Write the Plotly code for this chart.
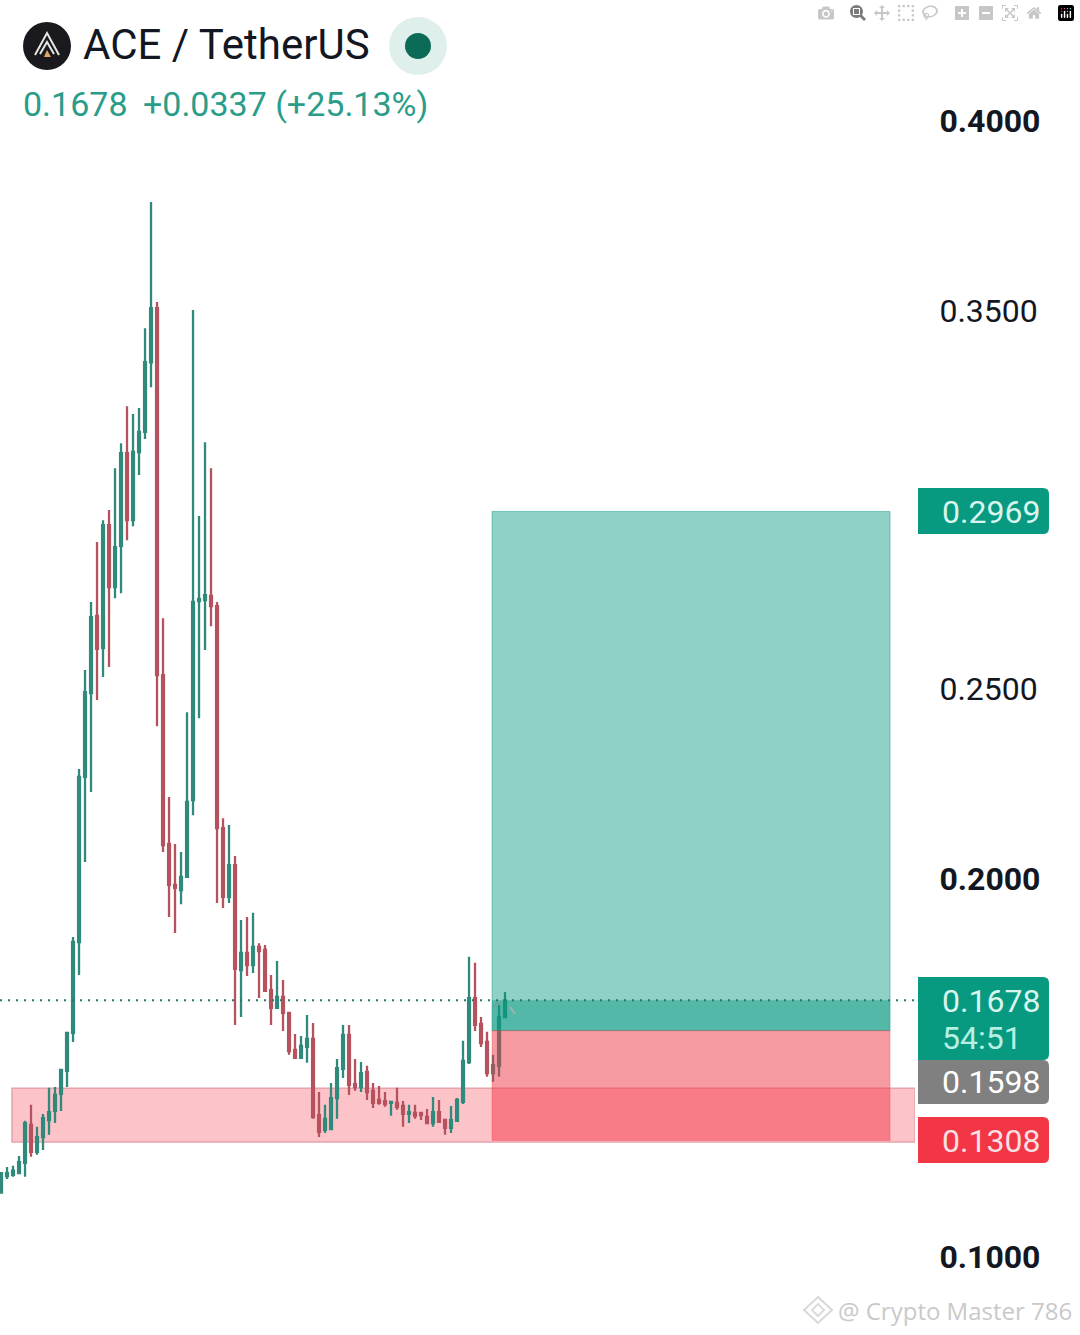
import plotly.graph_objects as go

# candle values
opens = [.1170,.1214,.1217,.1222,.1249,.1349,.1278,.1317,.1362,.1386,.1431,.1492,.1592,.1832,.2268,.2489,.2693,.2608,.2933,.2769,.2878,
         .3123,.2946,.3126,.3179,.3363,.3506,.2537,.2091,.1983,.1969,.2004,.2207,.2732,.2735,.2746,.2719,.2133,.1951,.2035,.1758,
         .1803,.1771,.1819,.1811,.1705,.1658,.1687,.1645,.1547,.1526,.1555,.1576,.1375,.1336,.1338,.1420,.1497,.1587,.1457,.1449,
         .1489,.1439,.1415,.1412,.1407,.1407,.1399,.1378,.1381,.1381,.1370,.1354,.1383,.1362,.1341,.1360,.1410,.1515,.1684,.1616,
         .1568,.1486,.1505,.1634]
highs = [.1222,.1238,.1241,.1267,.1360,.1402,.1344,.1378,.1447,.1449,.1497,.1592,.1845,.2289,.2550,.2730,.2888,.2946,.2973,.3083,.3149,
         .3247,.3226,.3242,.3453,.3786,.3522,.2687,.2215,.2091,.2070,.2439,.3501,.2957,.3152,.3083,.2730,.2159,.2141,.2059,.1890,
         .1898,.1909,.1829,.1824,.1745,.1782,.1732,.1647,.1589,.1584,.1639,.1618,.1436,.1402,.1460,.1523,.1613,.1613,.1523,.1515,
         .1505,.1460,.1452,.1436,.1410,.1447,.1412,.1402,.1402,.1381,.1391,.1423,.1415,.1365,.1399,.1420,.1571,.1793,.1777,.1634,
         .1595,.1534,.1666,.1700]
lows = [.1170,.1206,.1212,.1220,.1212,.1265,.1270,.1283,.1323,.1354,.1386,.1449,.1568,.1745,.2043,.2228,.2471,.2532,.2558,.2740,.2753,
        .2893,.2930,.3065,.3160,.3297,.2402,.2070,.1898,.1856,.1932,.2001,.2167,.2423,.2603,.2666,.1935,.1922,.1935,.1613,.1634,
        .1742,.1750,.1684,.1703,.1613,.1658,.1597,.1534,.1526,.1523,.1513,.1365,.1317,.1328,.1336,.1365,.1473,.1428,.1439,.1436,
        .1415,.1394,.1402,.1397,.1373,.1389,.1344,.1354,.1365,.1362,.1352,.1344,.1354,.1323,.1328,.1357,.1404,.1510,.1597,.1555,
        .1476,.1463,.1476,.1634]
closes = [.1222,.1222,.1228,.1251,.1354,.1278,.1317,.1367,.1383,.1428,.1494,.1592,.1832,.2268,.2492,.2690,.2606,.2933,.2769,.2875,.3123,
          .2946,.3126,.3179,.3363,.3506,.2537,.2088,.1983,.1975,.2004,.2202,.2730,.2738,.2748,.2719,.2133,.1951,.2035,.1761,.1803,
          .1771,.1819,.1808,.1703,.1658,.1687,.1645,.1544,.1526,.1558,.1576,.1370,.1331,.1365,.1420,.1499,.1587,.1455,.1449,.1486,
          .1436,.1407,.1407,.1404,.1410,.1397,.1378,.1383,.1373,.1375,.1354,.1383,.1357,.1341,.1362,.1415,.1518,.1684,.1613,.1565,
          .1486,.1507,.1634,.1678]
candles = list(range(len(opens)))

# levels
target = 0.2969
last_price = 0.1678
entry = 0.1598
stop = 0.1308
zone_top = 0.1446
zone_bottom = 0.1304

tick_vals = [0.40, 0.35, 0.25, 0.20, 0.10]
tick_text = ["<b>0.4000</b>", "0.3500", "0.2500", "<b>0.2000</b>", "<b>0.1000</b>"]

GREEN = "#2f8a7b"
RED = "#b5525e"
PLOT_W = 915
H = 1335


def px(x):
    return x / PLOT_W


def py(y):
    return 1 - y / H


# convert screen pixels to paper space for the header and price tags
def tag_path(x0, y0, x1, y1, r=6):
    return (f"M {px(x0)} {py(y0)} L {px(x1 - r)} {py(y0)} Q {px(x1)} {py(y0)} {px(x1)} {py(y0 + r)} "
            f"L {px(x1)} {py(y1 - r)} Q {px(x1)} {py(y1)} {px(x1 - r)} {py(y1)} L {px(x0)} {py(y1)} Z")


def poly(points, close=False):
    s = "M " + " L ".join(f"{px(a)} {py(b)}" for a, b in points)
    return s + (" Z" if close else "")


def circle(cx, cy, r, color):
    return dict(type="circle", xref="paper", yref="paper", x0=px(cx - r), x1=px(cx + r),
                y0=py(cy + r), y1=py(cy - r), fillcolor=color, line_width=0, layer="above")


def paper_path(path, fill=None, line=None, width=0):
    return dict(type="path", xref="paper", yref="paper", path=path, fillcolor=fill,
                line=dict(color=line, width=width), layer="above")


fig = go.Figure(go.Candlestick(
    x=candles, open=opens, high=highs, low=lows, close=closes,
    increasing=dict(line=dict(color=GREEN, width=2.3), fillcolor=GREEN),
    decreasing=dict(line=dict(color=RED, width=2.3), fillcolor=RED),
    showlegend=False,
))

x_start = 81.83
x_end = 148.17
shapes = [
    # pink support zone, behind the candles
    dict(type="rect", x0=1.83, x1=152.33, y0=zone_bottom, y1=zone_top, layer="below",
         fillcolor="#fcc3c9", line=dict(color="#e6a3ab", width=1.5)),
    # long position box
    dict(type="rect", x0=x_start, x1=x_end, y0=entry, y1=target, layer="above",
         fillcolor="rgba(8,153,129,0.45)", line=dict(color="rgba(8,153,129,0.45)", width=1)),
    dict(type="rect", x0=x_start, x1=x_end, y0=entry, y1=last_price, layer="above",
         fillcolor="rgba(8,153,129,0.45)", line_width=0),
    dict(type="rect", x0=x_start, x1=x_end, y0=stop, y1=entry, layer="above",
         fillcolor="rgba(242,54,69,0.5)", line=dict(color="rgba(242,54,69,0.3)", width=1)),
    # last price line
    dict(type="line", x0=-0.17, x1=152.33, y0=last_price, y1=last_price, layer="above",
         line=dict(color="#1f7a6b", width=2, dash="2px,6px")),
    # small gray marks next to the last candle
    paper_path(poly([(493, 1007), (500, 1002)]), line="#6f9f97", width=2),
    paper_path(poly([(510, 1007), (515, 1014)]), line="#9fb5b0", width=2),
    # price tags
    paper_path(tag_path(918, 488, 1049, 534), fill="#089981"),
    paper_path(tag_path(918, 1060, 1049, 1104), fill="#808080"),
    paper_path(tag_path(918, 977, 1049, 1060), fill="#089981"),
    paper_path(tag_path(918, 1117, 1049, 1163), fill="#f23645"),
    # logo
    circle(47, 46, 24, "#1a1a1e"),
    paper_path(poly([(35, 55), (47, 33), (59, 55)]), line="#e6e6e6", width=2),
    paper_path(poly([(40, 54), (47, 42), (54, 54)]), line="#e6e6e6", width=2),
    paper_path(poly([(44, 57), (47, 50), (51, 57)], close=True), fill="#e0a868"),
    # status dot
    circle(418, 46, 29, "#dff0ec"),
    circle(418, 46, 13, "#0b6b57"),
    # watermark mark
    paper_path(poly([(818, 1297), (832, 1310), (818, 1323), (804, 1310)], close=True), line="#d8d8d8", width=2),
    paper_path(poly([(818, 1304), (824, 1310), (818, 1316), (812, 1310)], close=True), line="#dddddd", width=2),
]


def label(x, y, text, size, color, family="Roboto"):
    return dict(xref="paper", yref="paper", x=px(x), y=py(y), text=text, showarrow=False,
                xanchor="left", yanchor="middle", align="left",
                font=dict(family=family, size=size, color=color))


annotations = [
    label(81, 45, "ACE / TetherUS", 42, "#131722"),
    label(21, 104, "0.1678", 34, "#2a9d8a"),
    label(141, 104, "+0.0337 (+25.13%)", 34, "#2a9d8a"),
    label(940, 512, "0.2969", 32, "#d8f5ee"),
    label(940, 1001, "0.1678", 32, "#d8f5ee"),
    label(940, 1038, "54:51", 32, "#b5f0e2"),
    label(940, 1082, "0.1598", 32, "#ffffff"),
    label(940, 1141, "0.1308", 32, "#f8dfe2"),
    label(836, 1310, "@ Crypto Master 786", 24, "#c9c9c9", family="Open Sans"),
]

fig.update_layout(
    width=1080,
    height=H,
    margin=dict(l=0, r=165, t=0, b=0),
    paper_bgcolor="white",
    plot_bgcolor="white",
    boxgap=0.55,
    shapes=shapes,
    annotations=annotations,
    xaxis=dict(range=[-0.17, 152.33], visible=False, rangeslider=dict(visible=False)),
    yaxis=dict(
        range=[0.07943, 0.43195], side="right", showgrid=False, zeroline=False, showline=False,
        tickvals=tick_vals, ticktext=tick_text, ticks="outside", ticklen=17, tickcolor="rgba(0,0,0,0)",
        tickfont=dict(family="Roboto", size=32, color="#131722"),
    ),
)

# the default page keeps an 8px body margin
fig.write_html("out.html", post_script="document.body.style.margin='0';")
